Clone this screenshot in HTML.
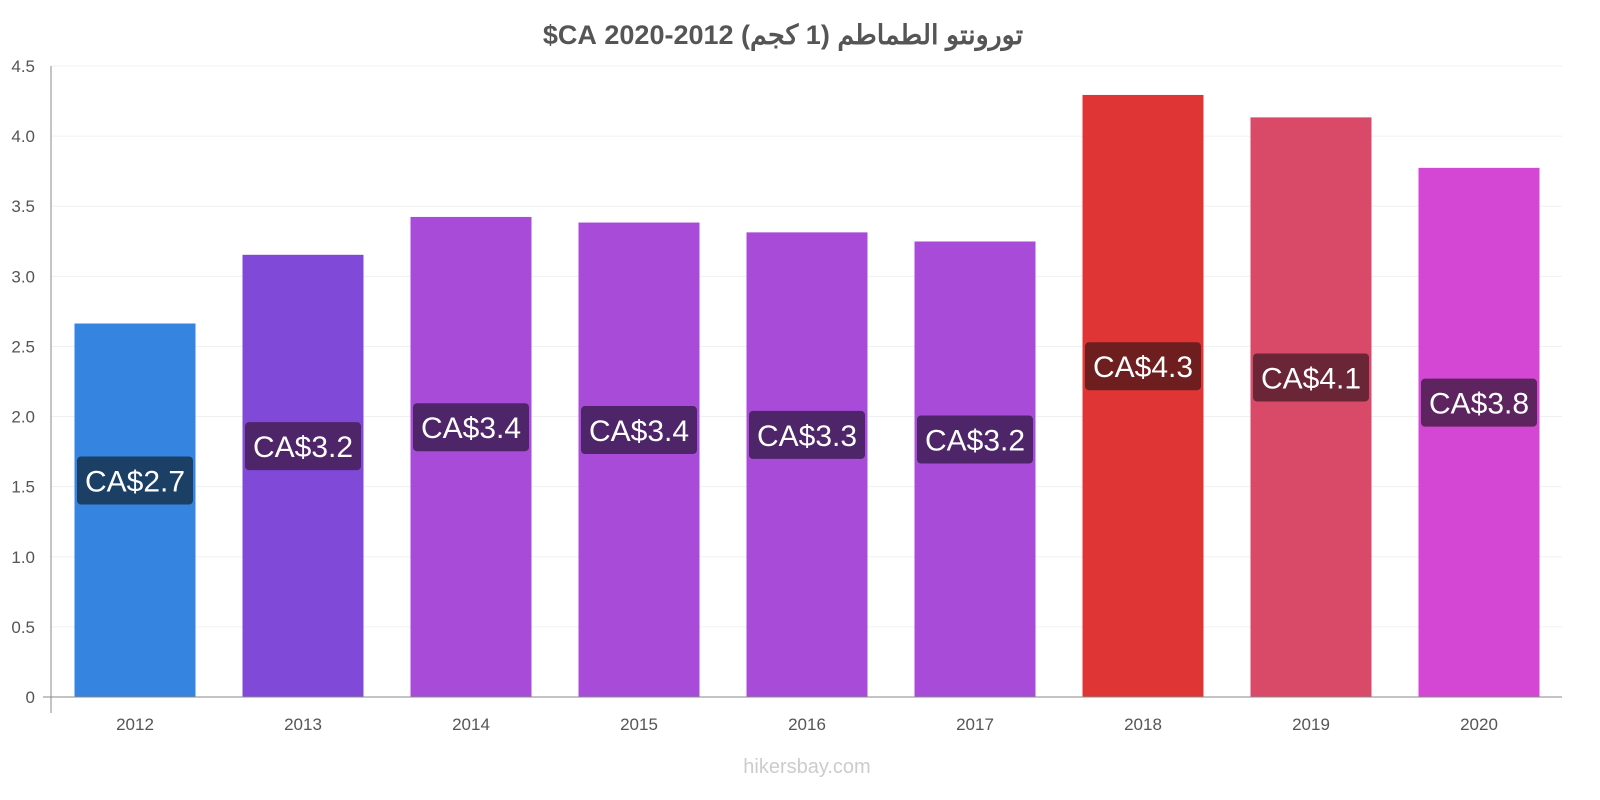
<!DOCTYPE html>
<html><head><meta charset="utf-8"><style>
body{margin:0;background:#fff;}
svg{display:block;font-family:"Liberation Sans","Noto Sans CJK SC",sans-serif;}
</style></head><body>
<svg id="chart" width="1600" height="800">
<text x="783" y="44" text-anchor="middle" direction="rtl" font-size="27" font-weight="bold" fill="#555">تورونتو الطماطم (1 كجم) 2012-2020 CA$</text>
<g id="grid"></g><g id="bars"></g><g id="axes"></g><g id="labels"></g>
<text x="807" y="773" text-anchor="middle" font-size="20" fill="#ccc">hikersbay.com</text>
</svg>
<script>
const categories=["2012","2013","2014","2015","2016","2017","2018","2019","2020"];
const values=[2.66,3.15,3.42,3.38,3.31,3.245,4.29,4.13,3.77];
const valueLabels=["CA$2.7","CA$3.2","CA$3.4","CA$3.4","CA$3.3","CA$3.2","CA$4.3","CA$4.1","CA$3.8"];
const yTicks=[0,0.5,1,1.5,2,2.5,3,3.5,4,4.5];
const yTickLabels=["0","0.5","1.0","1.5","2.0","2.5","3.0","3.5","4.0","4.5"];
const colors=["#3584e0","#8049d8","#a84bd8","#a84bd8","#a84bd8","#a84bd8","#e03535","#d84a68","#d447d4"];
const labelBg=["#1c3f66","#4e2569","#4e2569","#4e2569","#4e2569","#4e2569","#6e1e1e","#6a2637","#5e2460"];
const NS="http://www.w3.org/2000/svg";
const y0=697,yTop=66,yMax=4.5;
const y=v=>y0-(v/yMax)*(y0-yTop);
const x=i=>135+i*168;
const bw=120;
function mk(t,a,p){const e=document.createElementNS(NS,t);for(const k in a)e.setAttribute(k,a[k]);p.appendChild(e);return e;}
const grid=document.getElementById('grid'),bars=document.getElementById('bars'),axes=document.getElementById('axes'),labels=document.getElementById('labels');
yTicks.forEach((t,i)=>{
 const l=mk('line',{x1:51,x2:1562,y1:y(t),y2:y(t),stroke:'#f0f0f0'},grid);
 
 
 const tx=mk('text',{x:35,y:y(t)+6,'text-anchor':'end','font-size':17,fill:'#555'},axes);
 tx.textContent=yTickLabels[i];
 
 
});
mk('line',{x1:51,x2:51,y1:66,y2:713,stroke:'#888'},axes);
mk('line',{x1:43,x2:1562,y1:697,y2:697,stroke:'#888'},axes);
categories.forEach((c,i)=>{
 const r=mk('rect',{x:x(i)-bw/2,y:y(values[i]),width:bw,height:y0-y(values[i]),fill:colors[i],stroke:colors[i]},bars);
 
 
 const tx=mk('text',{x:x(i),y:730,'text-anchor':'middle','font-size':17,fill:'#555'},axes);
 tx.textContent=c;
 
 
 const cy=(y(values[i])+y0)/2-30;
 const bg=mk('rect',{x:x(i)-58,y:cy-24,width:116,height:48,rx:4,fill:labelBg[i]},labels);
 
 
 const lt=mk('text',{x:x(i),y:cy+11,'text-anchor':'middle','font-size':30,fill:'#fff'},labels);
 lt.textContent=valueLabels[i];
 
 
});
</script>
</body></html>
